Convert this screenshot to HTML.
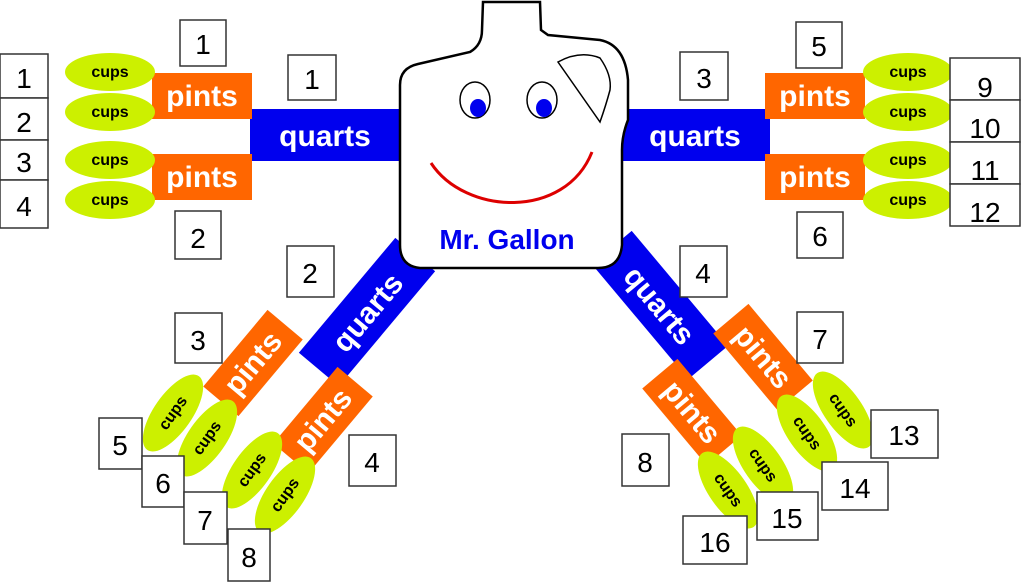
<!DOCTYPE html>
<html><head><meta charset="utf-8"><style>
html,body{margin:0;padding:0;background:#fff;}
svg{display:block;}
.q{fill:#fff;font-family:"Liberation Sans",sans-serif;font-weight:bold;font-size:30px;}
.p{fill:#fff;font-family:"Liberation Sans",sans-serif;font-weight:bold;font-size:30px;}
.c{fill:#000;font-family:"Liberation Sans",sans-serif;font-weight:bold;font-size:16px;}
.n{fill:#000;font-family:"Liberation Sans",sans-serif;font-size:28px;}
.b{fill:#fff;stroke:#333;stroke-width:1.5;}
</style></head><body>
<svg width="1024" height="582" viewBox="0 0 1024 582" xmlns="http://www.w3.org/2000/svg">
<defs>
<g id="cup"><ellipse cx="0" cy="0" rx="45" ry="19" fill="#ccf000"/><text class="c" x="0" y="5" text-anchor="middle">cups</text></g>
<g id="pint"><rect x="-50" y="-23" width="100" height="46" fill="#ff6600"/><text class="p" x="0" y="10" text-anchor="middle">pints</text></g>
<g id="quart"><rect x="-75" y="-26" width="150" height="52" fill="#0000ee"/><text class="q" x="0" y="11" text-anchor="middle">quarts</text></g>
</defs>

<use href="#quart" x="325" y="135"/>
<use href="#pint" x="202" y="96"/>
<use href="#pint" x="202" y="177"/>
<use href="#cup" x="110" y="72"/>
<use href="#cup" x="110" y="112"/>
<use href="#cup" x="110" y="160"/>
<use href="#cup" x="110" y="200"/>

<use href="#quart" x="695" y="135"/>
<use href="#pint" x="815" y="96"/>
<use href="#pint" x="815" y="177"/>
<use href="#cup" x="908" y="72"/>
<use href="#cup" x="908" y="112"/>
<use href="#cup" x="908" y="160"/>
<use href="#cup" x="908" y="200"/>

<g transform="translate(367,312) rotate(-50)"><use href="#quart"/></g>
<g transform="translate(253,363) rotate(-50)"><use href="#pint"/></g>
<g transform="translate(323,420) rotate(-50)"><use href="#pint"/></g>
<g transform="translate(173,413) rotate(-55)"><use href="#cup"/></g>
<g transform="translate(207,438) rotate(-55)"><use href="#cup"/></g>
<g transform="translate(252,470) rotate(-55)"><use href="#cup"/></g>
<g transform="translate(285,495) rotate(-55)"><use href="#cup"/></g>

<g transform="translate(660,305) rotate(50)"><use href="#quart"/></g>
<g transform="translate(763,357) rotate(50)"><use href="#pint"/></g>
<g transform="translate(692,412) rotate(50)"><use href="#pint"/></g>
<g transform="translate(843,410) rotate(55)"><use href="#cup"/></g>
<g transform="translate(807,433) rotate(55)"><use href="#cup"/></g>
<g transform="translate(763,465) rotate(55)"><use href="#cup"/></g>
<g transform="translate(728,490) rotate(55)"><use href="#cup"/></g>

<path d="M483,2 L540,2 L541,30 L548,35 L600,40 Q625,45 628,80 L628,120 Q622,135 622,150 L622,245 Q620,268 598,268 L420,268 Q400,266 400,245 L400,85 Q400,68 418,64 L470,52 Q482,45 482,30 Z" fill="#fff" stroke="#000" stroke-width="2.5"/>
<path d="M558,62 Q580,50 600,58 Q612,75 610,90 Q606,105 600,122 Z" fill="#fff" stroke="#000" stroke-width="1.5"/>
<ellipse cx="475" cy="100" rx="15" ry="18" fill="#fff" stroke="#000" stroke-width="1.5"/>
<ellipse cx="542" cy="100" rx="15" ry="18" fill="#fff" stroke="#000" stroke-width="1.5"/>
<ellipse cx="478" cy="108" rx="8" ry="9" fill="#0000ee"/>
<ellipse cx="544" cy="108" rx="8" ry="9" fill="#0000ee"/>
<path d="M431,163 C465,215 565,220 592,152" fill="none" stroke="#dd0000" stroke-width="3"/>
<text x="507" y="249" text-anchor="middle" font-family="Liberation Sans,sans-serif" font-weight="bold" font-size="28" fill="#0000ee">Mr. Gallon</text>

<g>
<rect class="b" x="0" y="54" width="48" height="44"/><text class="n" x="24" y="88" text-anchor="middle">1</text>
<rect class="b" x="0" y="98" width="48" height="42"/><text class="n" x="24" y="132" text-anchor="middle">2</text>
<rect class="b" x="0" y="140" width="48" height="40"/><text class="n" x="24" y="172" text-anchor="middle">3</text>
<rect class="b" x="0" y="180" width="48" height="48"/><text class="n" x="24" y="216" text-anchor="middle">4</text>
<rect class="b" x="180" y="20" width="46" height="46"/><text class="n" x="203" y="54" text-anchor="middle">1</text>
<rect class="b" x="288" y="55" width="48" height="45"/><text class="n" x="312" y="89" text-anchor="middle">1</text>
<rect class="b" x="175" y="211" width="46" height="48"/><text class="n" x="198" y="248" text-anchor="middle">2</text>
<rect class="b" x="680" y="52" width="48" height="48"/><text class="n" x="704" y="88" text-anchor="middle">3</text>
<rect class="b" x="796" y="22" width="46" height="46"/><text class="n" x="819" y="56" text-anchor="middle">5</text>
<rect class="b" x="797" y="212" width="46" height="46"/><text class="n" x="820" y="246" text-anchor="middle">6</text>
<rect class="b" x="950" y="58" width="70" height="42"/><text class="n" x="985" y="97" text-anchor="middle">9</text>
<rect class="b" x="950" y="100" width="70" height="42"/><text class="n" x="985" y="138" text-anchor="middle">10</text>
<rect class="b" x="950" y="142" width="70" height="42"/><text class="n" x="985" y="180" text-anchor="middle">11</text>
<rect class="b" x="950" y="184" width="70" height="42"/><text class="n" x="985" y="222" text-anchor="middle">12</text>
<rect class="b" x="287" y="246" width="47" height="51"/><text class="n" x="310" y="283" text-anchor="middle">2</text>
<rect class="b" x="175" y="313" width="47" height="50"/><text class="n" x="198" y="350" text-anchor="middle">3</text>
<rect class="b" x="349" y="435" width="47" height="51"/><text class="n" x="372" y="472" text-anchor="middle">4</text>
<rect class="b" x="99" y="418" width="43" height="51"/><text class="n" x="120" y="455" text-anchor="middle">5</text>
<rect class="b" x="142" y="456" width="42" height="51"/><text class="n" x="163" y="493" text-anchor="middle">6</text>
<rect class="b" x="184" y="492" width="43" height="52"/><text class="n" x="205" y="530" text-anchor="middle">7</text>
<rect class="b" x="228" y="529" width="42" height="52"/><text class="n" x="249" y="567" text-anchor="middle">8</text>
<rect class="b" x="680" y="246" width="47" height="51"/><text class="n" x="703" y="283" text-anchor="middle">4</text>
<rect class="b" x="797" y="312" width="46" height="51"/><text class="n" x="820" y="349" text-anchor="middle">7</text>
<rect class="b" x="622" y="434" width="47" height="52"/><text class="n" x="645" y="472" text-anchor="middle">8</text>
<rect class="b" x="871" y="410" width="67" height="48"/><text class="n" x="904" y="445" text-anchor="middle">13</text>
<rect class="b" x="822" y="462" width="66" height="48"/><text class="n" x="855" y="498" text-anchor="middle">14</text>
<rect class="b" x="757" y="492" width="61" height="48"/><text class="n" x="787" y="528" text-anchor="middle">15</text>
<rect class="b" x="683" y="516" width="64" height="48"/><text class="n" x="715" y="552" text-anchor="middle">16</text>
</g>
</svg>
</body></html>
